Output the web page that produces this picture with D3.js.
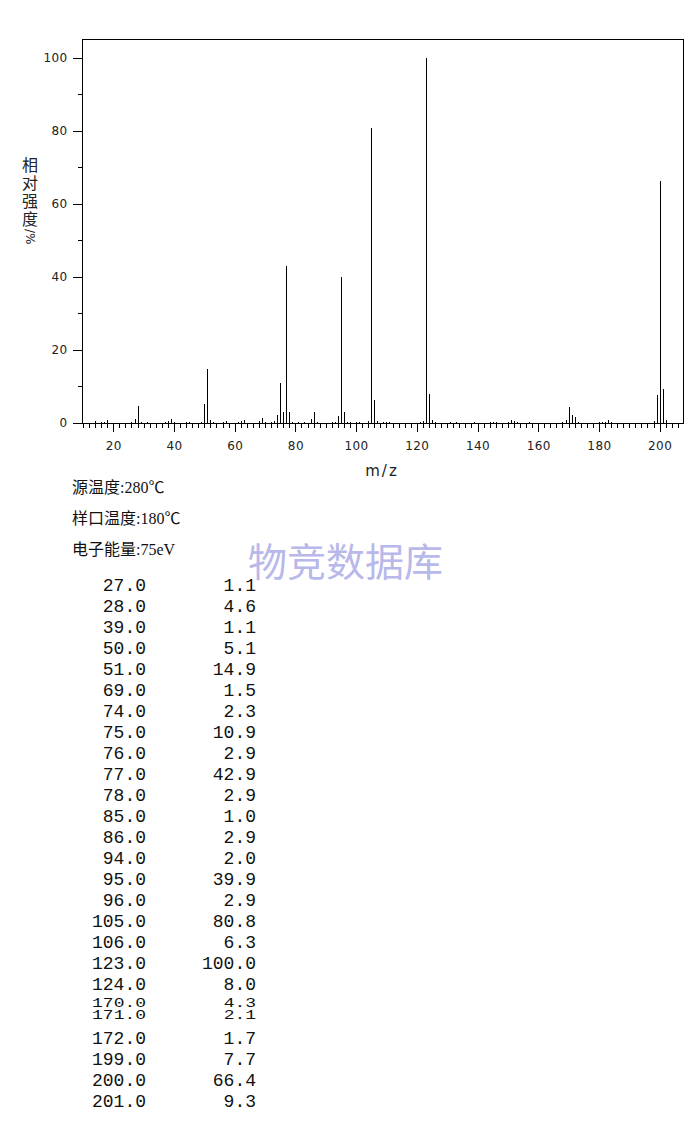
<!DOCTYPE html>
<html><head><meta charset="utf-8">
<script src="https://cdn.jsdelivr.net/npm/d3@7"></script>
<style>body{margin:0;background:#fff}svg{display:block}</style>
</head><body><svg id="c" width="694" height="1134"></svg>
<script>
// spectrum peaks (m/z, relative intensity %)
const mz = [14,16,17,18,26,27,28,29,31,37,38,39,40,44,45,49,50,51,52,53,56,57,61,62,63,68,69,70,72,73,74,75,76,77,78,79,81,83,85,86,87,92,93,94,95,96,97,98,100,101,104,105,106,107,109,110,111,121,122,123,124,125,126,131,133,139,144,145,146,150,151,152,153,157,168,169,170,171,172,173,180,181,182,183,184,198,199,200,201,202];
const intensity = [0.5,0.4,0.2,0.8,0.4,1.1,4.6,0.3,0.3,0.3,0.6,1.1,0.3,0.3,0.3,0.3,5.1,14.9,0.8,0.3,0.3,0.5,0.3,0.5,0.8,0.5,1.5,0.3,0.3,0.5,2.3,10.9,2.9,42.9,2.9,0.3,0.3,0.3,1.0,2.9,0.3,0.3,0.3,2.0,39.9,2.9,0.3,0.3,0.3,0.3,0.5,80.8,6.3,0.5,0.3,0.3,0.3,0.4,0.5,100.0,8.0,0.8,0.3,0.3,0.3,0.3,0.4,0.3,0.3,0.4,0.8,0.5,0.3,0.3,0.3,0.8,4.3,2.1,1.7,0.3,0.3,0.3,0.3,0.8,0.3,0.5,7.7,66.4,9.3,0.8];

const xMajorTicks = [20,40,60,80,100,120,140,160,180,200];
const xMinorTicks = d3.range(10, 208, 2);
const yMajorTicks = [0,20,40,60,80,100];
const yMinorTicks = [10,30,50,70,90];
const yLabelMain = "相对强度";
const yLabelTail = "/%";
const xLabel = "m/z";
const infoLines = ["源温度:280℃","样口温度:180℃","电子能量:75eV"];
const watermark = "物竞数据库";
const tableMz = ["27.0","28.0","39.0","50.0","51.0","69.0","74.0","75.0","76.0","77.0","78.0","85.0","86.0","94.0","95.0","96.0","105.0","106.0","123.0","124.0","170.0","171.0","172.0","199.0","200.0","201.0"];
const tableInt = ["1.1","4.6","1.1","5.1","14.9","1.5","2.3","10.9","2.9","42.9","2.9","1.0","2.9","2.0","39.9","2.9","80.8","6.3","100.0","8.0","4.3","2.1","1.7","7.7","66.4","9.3"];

const svg = d3.select("#c");
const L = 82, R = 683, T = 39, B = 423;
const x = d3.scaleLinear().domain([9.7, 207.7]).range([L, R]);
const y = d3.scaleLinear().domain([0, 105.2]).range([B, T]);
const tickFont = "DejaVu Sans, Verdana, sans-serif";

// watermark (behind)
svg.append("text").attr("x", 248).attr("y", 576)
  .attr("font-family", "Noto Sans CJK SC").attr("font-size", 39)
  .attr("fill", "#b8b8ea").text(watermark);

// frame
svg.append("rect").attr("x", L + 0.5).attr("y", T + 0.5)
  .attr("width", R - L).attr("height", B - T)
  .attr("fill", "none").attr("stroke", "#000").attr("stroke-width", 1);

// peaks
svg.append("g").selectAll("line").data(mz).join("line")
  .attr("x1", d => Math.round(x(d)) + 0.5).attr("x2", d => Math.round(x(d)) + 0.5)
  .attr("y1", y(0)).attr("y2", (d, i) => y(intensity[i]))
  .attr("stroke", "#000").attr("stroke-width", 1).attr("shape-rendering", "crispEdges");

// axes
const gyMinor = svg.append("g").attr("transform", `translate(${L + 0.5},0)`)
  .call(d3.axisLeft(y).tickValues(yMinorTicks).tickSize(5).tickFormat(""));
const gyMajor = svg.append("g").attr("transform", `translate(${L + 0.5},0)`)
  .call(d3.axisLeft(y).tickValues(yMajorTicks).tickSize(10).tickPadding(5));
const gxMinor = svg.append("g").attr("transform", `translate(0,${B + 0.5})`)
  .call(d3.axisBottom(x).tickValues(xMinorTicks).tickSize(4).tickFormat(""));
const gxMajor = svg.append("g").attr("transform", `translate(0,${B + 0.5})`)
  .call(d3.axisBottom(x).tickValues(xMajorTicks).tickSize(8).tickPadding(10));
[gyMinor, gyMajor, gxMinor, gxMajor].forEach(g => {
  g.select(".domain").remove();
  g.selectAll("line").attr("stroke", "#000").attr("shape-rendering", "crispEdges");
  g.selectAll("text").attr("font-family", tickFont).attr("font-size", 12)
    .attr("fill", "#222").attr("letter-spacing", "0.4px");
});

// y label (vertical)
const yl = svg.append("text").attr("x", 30).attr("y", 157)
  .attr("style", "writing-mode: vertical-rl")
  .attr("font-family", "Noto Sans CJK SC").attr("font-size", 16)
  .attr("letter-spacing", "2px").attr("fill", "#222");
yl.append("tspan").text(yLabelMain);
yl.append("tspan").attr("font-family", tickFont).attr("font-size", 12)
  .attr("letter-spacing", "0px").text(yLabelTail);

// x label
svg.append("text").attr("x", 382).attr("y", 476).attr("text-anchor", "middle")
  .attr("font-family", tickFont).attr("font-size", 15).attr("letter-spacing", "2px")
  .attr("fill", "#222").text(xLabel);

// info lines
svg.append("g").selectAll("text").data(infoLines).join("text")
  .attr("x", 72).attr("y", (d, i) => 493 + i * 31)
  .attr("font-family", "Liberation Serif, Noto Sans CJK SC").attr("font-size", 16)
  .attr("fill", "#111").text(d => d);

// table
const rowY = i => i < 20 ? 591 + 21 * i : (i === 20 ? 1007 : (i === 21 ? 1019 : 1044 + 21 * (i - 22)));
const squeeze = i => (i === 20 || i === 21);
const tg = svg.append("g").attr("font-family", "Liberation Mono, Courier New, monospace")
  .attr("font-size", 18).attr("fill", "#111");
function rows(cls, data, xr) {
  tg.selectAll("text." + cls).data(data).join("text").attr("class", cls)
    .attr("text-anchor", "end")
    .attr("transform", (d, i) => `translate(${xr},${rowY(i)}) scale(1,${squeeze(i) ? 0.75 : 1})`)
    .text(d => d);
}
rows("mz", tableMz, 146);
rows("in", tableInt, 256);
</script>
</body></html>
